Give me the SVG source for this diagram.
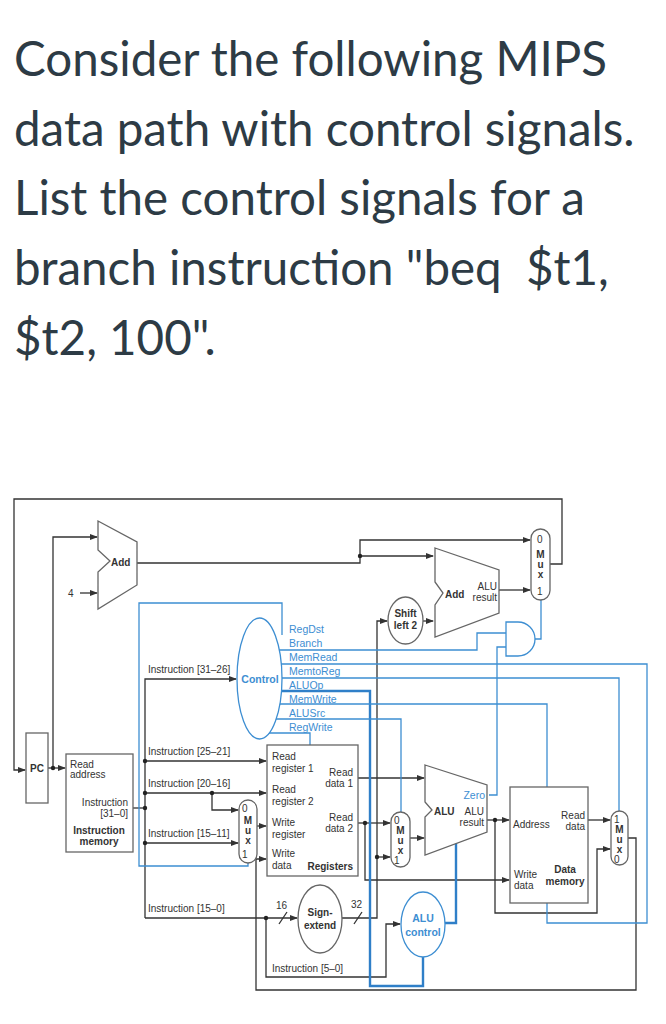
<svg xmlns="http://www.w3.org/2000/svg" width="666" height="1024" viewBox="0 0 666 1024">
<defs>
<marker id="a" markerWidth="8" markerHeight="6" refX="7" refY="3" orient="auto" markerUnits="userSpaceOnUse"><path d="M0,0 L8,3 L0,6 z" fill="#333"/></marker>
</defs>
<style>
.t{font-family:Lato,"Open Sans",sans-serif;font-size:47.5px;fill:#2d3b45}
.w{fill:none;stroke:#333;stroke-width:1.3}
.b{fill:none;stroke:#3d8ed2;stroke-width:1.3}
.bt{fill:none;stroke:#2f7fc8;stroke-width:2.4}
.s{font-family:"Liberation Sans",Arial,sans-serif;font-size:10px;fill:#333}
.sb{font-family:"Liberation Sans",Arial,sans-serif;font-size:10px;font-weight:bold;fill:#333}
.bl{font-family:"Liberation Sans",Arial,sans-serif;font-size:10.5px;fill:#3d8ed2}
.blb{font-family:"Liberation Sans",Arial,sans-serif;font-size:10.5px;font-weight:bold;fill:#3d8ed2}
.box{fill:#fff;stroke:#666;stroke-width:1.3}
.d{fill:#222}
</style>
<rect width="666" height="1024" fill="#fff"/>
<g id="title">
<text class="t" x="14" y="76">Consider the following MIPS</text>
<text class="t" x="14" y="146">data path with control signals.</text>
<text class="t" x="14" y="215">List the control signals for a</text>
<text class="t" x="14" y="285">branch instruction "beq &#160;$t1,</text>
<text class="t" x="14" y="355">$t2, 100".</text>
</g>
<g id="connectors">
<path class="w" d="M550,564 H562 V499 H14 V770 H25" marker-end="url(#a)"/>
<path class="w" d="M48,768 H65" marker-end="url(#a)"/>
<path class="w" d="M53,768 V537 H97" marker-end="url(#a)"/>
<path class="w" d="M80,593 H97" marker-end="url(#a)"/>
<path class="w" d="M137,563 H360 V540 H530" marker-end="url(#a)"/>
<path class="w" d="M360,556 H433" marker-end="url(#a)"/>
<path class="w" d="M499,590 H530" marker-end="url(#a)"/>
<path class="w" d="M423,621 H433" marker-end="url(#a)"/>
<path class="w" d="M342,918 H377 V621 H387" marker-end="url(#a)"/>
<path class="w" d="M377,857 H390" marker-end="url(#a)"/>
<path class="w" d="M133,808 H145"/>
<path class="w" d="M145,918 V679 H236" marker-end="url(#a)"/>
<path class="w" d="M145,761 H266" marker-end="url(#a)"/>
<path class="w" d="M145,793 H266" marker-end="url(#a)"/>
<path class="w" d="M212,793 V810 H238" marker-end="url(#a)"/>
<path class="w" d="M145,843 H238" marker-end="url(#a)"/>
<path class="w" d="M257,826 H266" marker-end="url(#a)"/>
<path class="w" d="M145,918 H297" marker-end="url(#a)"/>
<path class="w" d="M279,924 L287,912 M354,924 L362,912"/>
<path class="w" d="M266,918 V977 H386 V924 H400" marker-end="url(#a)"/>
<path class="w" d="M358,778 H424" marker-end="url(#a)"/>
<path class="w" d="M358,823 H390" marker-end="url(#a)"/>
<path class="w" d="M365,823 V880 H509" marker-end="url(#a)"/>
<path class="w" d="M410,838 H424" marker-end="url(#a)"/>
<path class="w" d="M487,820 H509" marker-end="url(#a)"/>
<path class="w" d="M495,820 V913 H597 V849 H610" marker-end="url(#a)"/>
<path class="w" d="M588,820 H610" marker-end="url(#a)"/>
<path class="w" d="M628,838 H636 V990 H256 V859 H266" marker-end="url(#a)"/>
<path class="b" d="M282,635 V603 H139 V866 H248 V863"/>
<path class="b" d="M262,650 H477 V633 H506"/>
<path class="b" d="M489,795 H497 V647 H506"/>
<path class="b" d="M535,639 H541 V600"/>
<path class="b" d="M270,664 H647 V923 H547 V903"/>
<path class="b" d="M279,678 H619 V811"/>
<path class="bt" d="M281,691 H370 V986 H423 V957"/>
<path class="bt" d="M456,843 V923 H445"/>
<path class="b" d="M279,704 H547 V787"/>
<path class="b" d="M274,719 H401 V812"/>
<path class="b" d="M268,733 H310 V745"/>
</g>
<g id="dots">
<circle class="d" cx="53" cy="768" r="2.2"/><circle class="d" cx="360" cy="556" r="2.2"/>
<circle class="d" cx="145" cy="761" r="2.2"/><circle class="d" cx="145" cy="793" r="2.2"/>
<circle class="d" cx="145" cy="808" r="2.2"/><circle class="d" cx="145" cy="843" r="2.2"/>
<circle class="d" cx="212" cy="793" r="2.2"/><circle class="d" cx="266" cy="918" r="2.2"/>
<circle class="d" cx="377" cy="857" r="2.2"/><circle class="d" cx="365" cy="823" r="2.2"/>
<circle class="d" cx="495" cy="820" r="2.2"/>
</g>
<g id="pc"><rect class="box" x="26" y="733" width="22" height="70"/><text class="sb" x="37" y="772" text-anchor="middle">PC</text></g>
<g id="add4"><path class="box" d="M98,521 L137,542 L137,585 L98,609 L98,572 L110,561 L98,550 Z"/><text class="sb" x="111" y="566">Add</text><text class="s" x="68" y="597">4</text></g>
<g id="mux-pc"><rect class="box" x="531" y="529" width="19" height="71" rx="9.5"/><text class="s" x="537" y="543">0</text><text class="sb" x="540.5" y="558" text-anchor="middle">M</text><text class="sb" x="540.5" y="568" text-anchor="middle">u</text><text class="sb" x="540.5" y="578" text-anchor="middle">x</text><text class="s" x="537" y="595">1</text></g>
<g id="add-branch"><path class="box" d="M435,548 L499,570 L499,613 L435,637 L435,605 L443,593 L435,582 Z"/><text class="sb" x="445" y="598">Add</text><text class="s" x="497" y="590" text-anchor="end">ALU</text><text class="s" x="497" y="601" text-anchor="end">result</text></g>
<g id="shift"><ellipse class="box" cx="405.5" cy="620.5" rx="17.5" ry="23.5"/><text class="sb" x="405.5" y="617" text-anchor="middle">Shift</text><text class="sb" x="405.5" y="629" text-anchor="middle">left 2</text></g>
<g id="and"><path d="M506,622 H518 A17,17 0 0 1 518,656 H506 Z" fill="#fff" stroke="#3d8ed2" stroke-width="1.3"/></g>
<g id="control"><ellipse cx="259.5" cy="678.5" rx="22.5" ry="60.5" fill="#fff" stroke="#3d8ed2" stroke-width="1.3"/><text class="blb" x="260" y="683" text-anchor="middle">Control</text>
<text class="bl" x="289" y="633">RegDst</text><text class="bl" x="289" y="647">Branch</text><text class="bl" x="289" y="661">MemRead</text><text class="bl" x="289" y="675">MemtoReg</text><text class="bl" x="289" y="689">ALUOp</text><text class="bl" x="289" y="703">MemWrite</text><text class="bl" x="289" y="717">ALUSrc</text><text class="bl" x="289" y="731">RegWrite</text></g>
<g id="imem"><rect class="box" x="66" y="754" width="67" height="98"/><text class="s" x="70" y="768">Read</text><text class="s" x="70" y="778">address</text><text class="s" x="128" y="806" text-anchor="end">Instruction</text><text class="s" x="128" y="817" text-anchor="end">[31–0]</text><text class="sb" x="99" y="834" text-anchor="middle">Instruction</text><text class="sb" x="99" y="845" text-anchor="middle">memory</text></g>
<g id="labels" class="s"><text class="s" x="148" y="673">Instruction [31–26]</text><text class="s" x="148" y="755">Instruction [25–21]</text><text class="s" x="148" y="787">Instruction [20–16]</text><text class="s" x="148" y="837">Instruction [15–11]</text><text class="s" x="148" y="912">Instruction [15–0]</text><text class="s" x="272" y="972">Instruction [5–0]</text><text class="s" x="276" y="909">16</text><text class="s" x="351" y="908">32</text></g>
<g id="mux-regdst"><rect class="box" x="239" y="800" width="18" height="63" rx="9"/><text class="s" x="242" y="812">0</text><text class="sb" x="248" y="824" text-anchor="middle">M</text><text class="sb" x="248" y="834" text-anchor="middle">u</text><text class="sb" x="248" y="844" text-anchor="middle">x</text><text class="s" x="242" y="858">1</text></g>
<g id="registers"><rect class="box" x="267" y="745" width="91" height="131"/><text class="s" x="272" y="760">Read</text><text class="s" x="272" y="772">register 1</text><text class="s" x="272" y="793">Read</text><text class="s" x="272" y="805">register 2</text><text class="s" x="272" y="826">Write</text><text class="s" x="272" y="838">register</text><text class="s" x="272" y="857">Write</text><text class="s" x="272" y="869">data</text><text class="s" x="353" y="776" text-anchor="end">Read</text><text class="s" x="353" y="787" text-anchor="end">data 1</text><text class="s" x="353" y="821" text-anchor="end">Read</text><text class="s" x="353" y="832" text-anchor="end">data 2</text><text class="sb" x="353" y="870" text-anchor="end">Registers</text></g>
<g id="signext"><ellipse class="box" cx="320" cy="919" rx="22" ry="34"/><text class="sb" x="320" y="916" text-anchor="middle">Sign-</text><text class="sb" x="320" y="929" text-anchor="middle">extend</text></g>
<g id="mux-alusrc"><rect class="box" x="391" y="812" width="19" height="55" rx="9.5"/><text class="s" x="394" y="824">0</text><text class="sb" x="400.5" y="834" text-anchor="middle">M</text><text class="sb" x="400.5" y="844" text-anchor="middle">u</text><text class="sb" x="400.5" y="854" text-anchor="middle">x</text><text class="s" x="394" y="864">1</text></g>
<g id="alu"><path class="box" d="M425,765 L487,785 L487,832 L425,855 L425,817 L432,810 L425,802 Z"/><text class="sb" x="434" y="815">ALU</text><text class="s" x="484" y="815" text-anchor="end">ALU</text><text class="s" x="484" y="826" text-anchor="end">result</text><text class="bl" x="485" y="799" text-anchor="end">Zero</text></g>
<g id="alucontrol"><ellipse cx="423" cy="924.5" rx="22" ry="32.5" fill="#fff" stroke="#3d8ed2" stroke-width="1.3"/><text class="blb" x="423" y="922" text-anchor="middle">ALU</text><text class="blb" x="423" y="936" text-anchor="middle">control</text></g>
<g id="dmem"><rect class="box" x="510" y="787" width="78" height="116"/><text class="s" x="513" y="828">Address</text><text class="s" x="585" y="819" text-anchor="end">Read</text><text class="s" x="585" y="830" text-anchor="end">data</text><text class="s" x="514" y="878">Write</text><text class="s" x="514" y="889">data</text><text class="sb" x="565" y="873" text-anchor="middle">Data</text><text class="sb" x="565" y="885" text-anchor="middle">memory</text></g>
<g id="mux-wb"><rect class="box" x="611" y="811" width="17" height="54" rx="8.5"/><text class="s" x="614" y="823">1</text><text class="sb" x="619.5" y="833" text-anchor="middle">M</text><text class="sb" x="619.5" y="843" text-anchor="middle">u</text><text class="sb" x="619.5" y="853" text-anchor="middle">x</text><text class="s" x="614" y="863">0</text></g>
</svg>
